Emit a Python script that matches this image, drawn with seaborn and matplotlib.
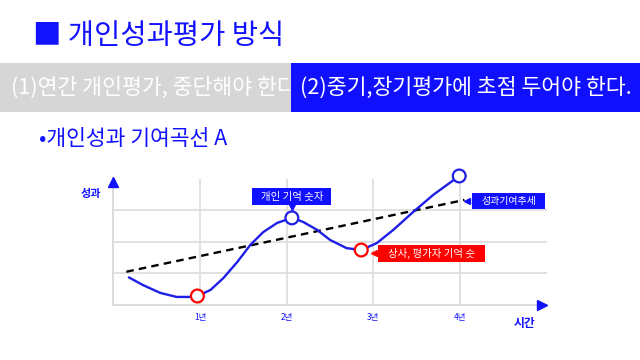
import numpy as np
import pandas as pd
import matplotlib.pyplot as plt
from matplotlib.patches import Rectangle
import seaborn as sns

# ---- data ----
title = "■ 개인성과평가 방식"
tab_left = "(1)연간 개인평가, 중단해야 한다"
tab_right = "(2)중기,장기평가에 초점 두어야 한다."
subtitle = "•개인성과 기여곡선 A"

tick_pos = [1, 2, 3, 4]
tick_labels = ["1년", "2년", "3년", "4년"]

# contribution curve, sampled along the drawn line
curve_x = [0.18, 0.34, 0.54, 0.73, 0.88, 0.97, 1.12, 1.27, 1.43, 1.58, 1.73, 1.89,
           2.06, 2.19, 2.35, 2.50, 2.69, 2.86, 3.04, 3.23, 3.46, 3.69, 3.99]
curve_y = [0.86, 0.62, 0.37, 0.24, 0.24, 0.27, 0.46, 0.84, 1.35, 1.89, 2.30, 2.59,
           2.75, 2.62, 2.37, 2.05, 1.79, 1.73, 1.95, 2.37, 2.94, 3.48, 4.08]

# circled points
point_x = [0.97, 2.06, 2.86, 3.99]
point_y = [0.27, 2.75, 1.73, 4.08]
point_kind = ["low", "high", "low", "high"]

# trend line
trend_x = [0.15, 4.05]
trend_y = [1.04, 3.32]

note_self = "개인 기억 숫자"
note_boss = "상사, 평가자 기억 숫"
note_trend = "성과기여추세"

BLUE = "#1212FF"
LINE_BLUE = "#1E1EE6"
RED = "#FF0000"
GRID = "#DCDCDC"

sns.set_theme(style="white")
plt.rcParams['font.family'] = ['Noto Sans CJK KR', 'DejaVu Sans']

fig = plt.figure(figsize=(6.4, 3.6), dpi=100)

# header band
fig.patches.append(Rectangle((0, 1 - 112 / 360), 1, 49 / 360, transform=fig.transFigure,
                             fc="#D6D6D6", ec="none", zorder=1))
fig.patches.append(Rectangle((291 / 640, 1 - 112 / 360), 349 / 640, 49 / 360,
                             transform=fig.transFigure, fc="#1010FF", ec="none", zorder=2))
fig.text(11 / 640, 1 - 88 / 360, tab_left, color="white", fontsize=15.6,
         va="center", ha="left", zorder=1.5)
fig.text(300 / 640, 1 - 88 / 360, tab_right, color="white", fontsize=15.6,
         va="center", ha="left", zorder=3)
fig.text(33 / 640, 1 - 36 / 360, title, color=BLUE, fontsize=20.5, va="center", ha="left")
fig.text(39 / 640, 1 - 139 / 360, subtitle, color=BLUE, fontsize=15.5, va="center", ha="left")
fig.text(91 / 640, 1 - 193 / 360, "성과", color=BLUE, fontsize=8, fontweight="bold",
         va="center", ha="center")
fig.text(525 / 640, 1 - 324 / 360, "시간", color=BLUE, fontsize=8.5, fontweight="bold",
         va="center", ha="center")

# chart
ax = fig.add_axes([113.3 / 640, (360 - 304.5) / 360, 433.5 / 640, 126 / 360])
ax.set_xlim(0, 5)
ax.set_ylim(0, 4)
ax.set_xticks(tick_pos)
ax.set_xticklabels(tick_labels, color=BLUE, fontsize=6)
ax.set_yticks([1, 2, 3])
ax.set_yticklabels([])
ax.tick_params(length=0, axis="x", pad=6)
ax.tick_params(length=0, axis="y")
ax.grid(True, color=GRID, lw=1.2)
for s in ["top", "right"]:
    ax.spines[s].set_visible(False)
for s in ["left", "bottom"]:
    ax.spines[s].set_color(GRID)
    ax.spines[s].set_linewidth(1.4)

# axis arrows
ax.plot([0], [3.9], marker="^", ms=6.5, color=BLUE, clip_on=False, zorder=5)
ax.plot([4.94], [0], marker=">", ms=6.5, color=BLUE, clip_on=False, zorder=5)

trend = pd.DataFrame({"x": trend_x, "y": trend_y})
sns.lineplot(data=trend, x="x", y="y", ax=ax, color="black", lw=1.7,
             linestyle=(0, (3.2, 2.2)), zorder=3)

curve = pd.DataFrame({"x": curve_x, "y": curve_y})
sns.lineplot(data=curve, x="x", y="y", ax=ax, sort=False, color=LINE_BLUE, lw=1.7,
             zorder=4)

pts = pd.DataFrame({"x": point_x, "y": point_y, "kind": point_kind})
edge = [RED if k == "low" else LINE_BLUE for k in point_kind]
sns.scatterplot(data=pts, x="x", y="y", ax=ax, color="white", edgecolor=edge,
                linewidth=1.6, s=85, zorder=6, clip_on=False, legend=False)
ax.set_xlabel("")
ax.set_ylabel("")

# annotation boxes
def box(cx, cy, w, h, text, fc, fs):
    ax.add_patch(Rectangle((cx - w / 2, cy - h / 2), w, h, fc=fc, ec="none",
                           clip_on=False, zorder=7))
    ax.text(cx, cy, text, color="white", fontsize=fs, ha="center", va="center",
            zorder=8, clip_on=False)

# personal memory (above the peak)
px, py = point_x[1], point_y[1]
box(px, py + 0.68, 0.91, 0.54, note_self, "#1010FF", 7.5)
ax.plot([px], [py + 0.33], marker="v", ms=5, color="#1010FF", clip_on=False, zorder=7)

# boss memory (right of the second low)
px, py = point_x[2], point_y[2]
box(px + 0.81, py - 0.11, 1.24, 0.54, note_boss, RED, 7.5)
ax.plot([px + 0.15], [py - 0.11], marker="<", ms=5, color=RED, clip_on=False, zorder=7)

# trend label
tx, ty = trend_x[1], trend_y[1]
box(tx + 0.51, ty - 0.03, 0.85, 0.51, note_trend, "#1010FF", 7.2)
ax.plot([tx + 0.03], [ty - 0.03], marker="<", ms=5, color="#1010FF", clip_on=False, zorder=7)

fig.savefig("out.png", dpi=100)
